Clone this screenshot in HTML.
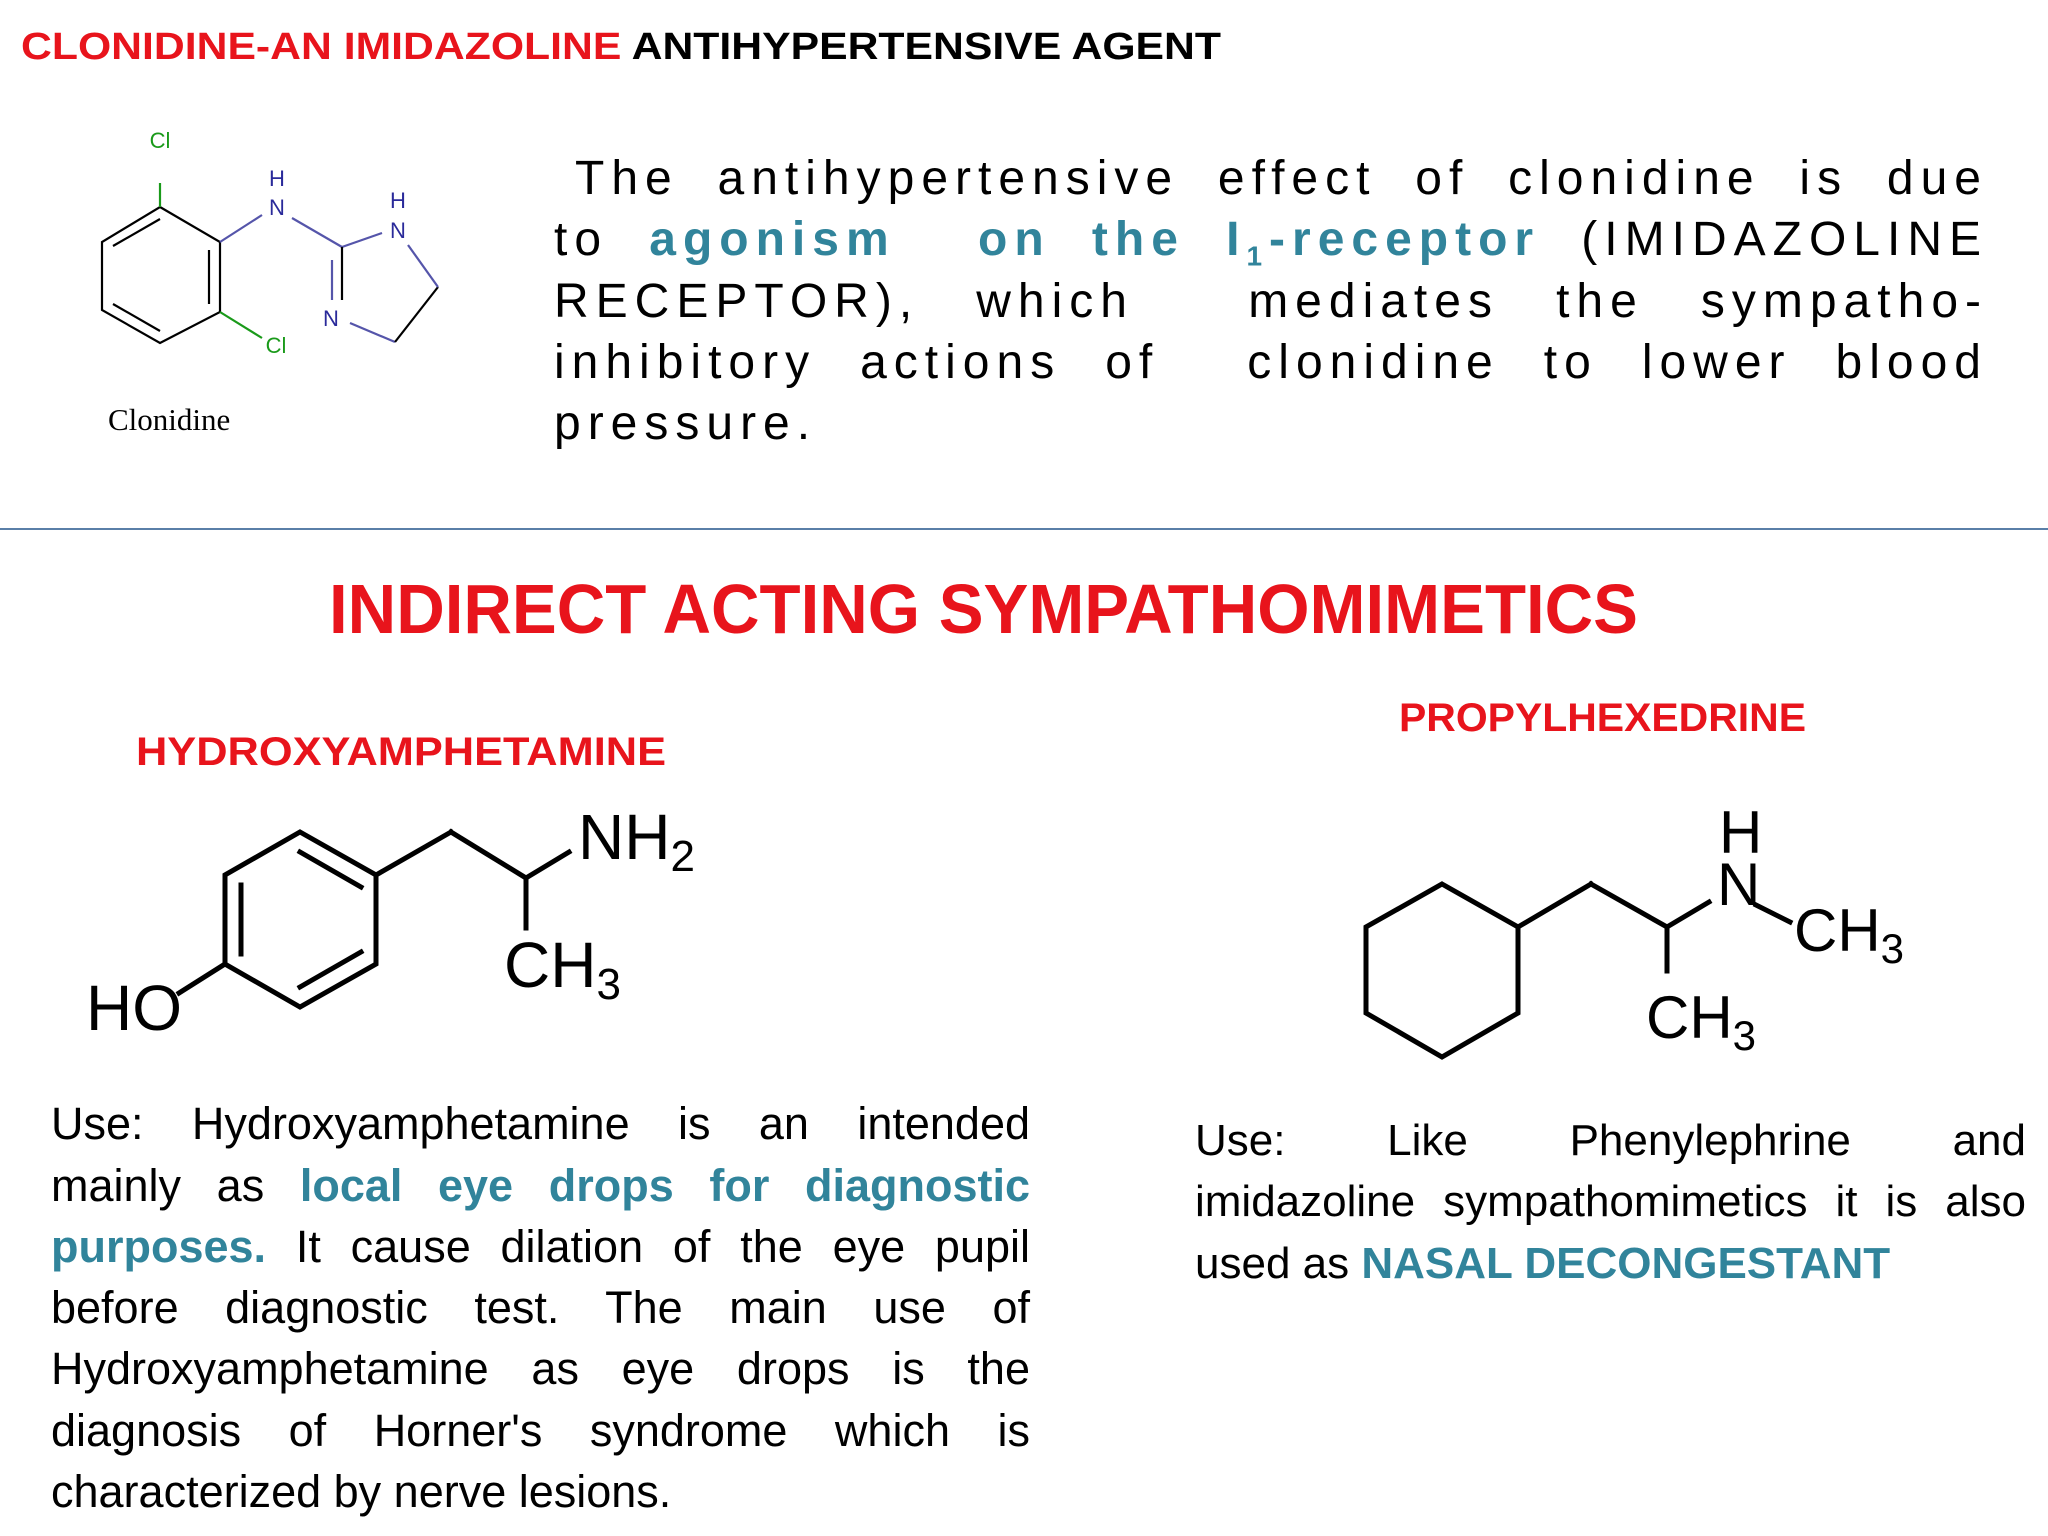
<!DOCTYPE html>
<html><head><meta charset="utf-8"><style>
html,body{margin:0;padding:0;background:#fff;}
body{width:2048px;height:1536px;position:relative;overflow:hidden;font-family:"Liberation Sans",sans-serif;}
.ln{position:absolute;white-space:nowrap;text-align:justify;text-align-last:justify;}
.cp{font-size:48px;line-height:48px;letter-spacing:7px;color:#000;left:554px;width:1434px;}
.lp{font-size:45px;line-height:45px;color:#000;left:51px;width:979px;}
.rp{font-size:44px;line-height:44px;color:#000;left:1195px;width:831px;}
.t{color:#31849b;font-weight:bold;}
svg{position:absolute;left:0;top:0;}
</style></head><body>
<svg width="2048" height="1536" viewBox="0 0 2048 1536" font-family="Liberation Sans, sans-serif">
<text x="21" y="59" font-size="38" font-weight="bold" textLength="1200" lengthAdjust="spacingAndGlyphs"><tspan fill="#e8141c">CLONIDINE-AN IMIDAZOLINE</tspan><tspan fill="#000"> ANTIHYPERTENSIVE AGENT</tspan></text>
<line x1="0" y1="529" x2="2048" y2="529" stroke="#5a7fa8" stroke-width="2"/>
<text x="329" y="633" font-size="70" font-weight="bold" fill="#e8141c" textLength="1309" lengthAdjust="spacingAndGlyphs">INDIRECT ACTING SYMPATHOMIMETICS</text>
<text x="136" y="765" font-size="40" font-weight="bold" fill="#e8141c" textLength="530" lengthAdjust="spacingAndGlyphs">HYDROXYAMPHETAMINE</text>
<text x="1399" y="731" font-size="40" font-weight="bold" fill="#e8141c" textLength="407" lengthAdjust="spacingAndGlyphs">PROPYLHEXEDRINE</text>

<!-- Clonidine -->
<g stroke="#000" stroke-width="2.2" fill="none">
<polygon points="160,207 220,242 220,312 160,343 102,310 102,242"/>
<line x1="113" y1="246" x2="160" y2="219"/>
<line x1="209" y1="250" x2="209" y2="304"/>
<line x1="113" y1="304" x2="160" y2="331"/>
<line x1="160" y1="207" x2="160" y2="183" stroke="#1a9a1a"/>
<line x1="220" y1="242" x2="262" y2="215" stroke="#5555aa"/>
<line x1="292" y1="218" x2="342" y2="247" stroke="#5555aa"/>
<line x1="342" y1="247" x2="382" y2="233" stroke="#5555aa"/>
<line x1="342" y1="247" x2="342" y2="300"/>
<line x1="332" y1="260" x2="332" y2="300" stroke="#5555aa"/>
<line x1="350" y1="323" x2="395" y2="342" stroke="#5555aa"/>
<line x1="395" y1="342" x2="438" y2="287"/>
<line x1="438" y1="287" x2="408" y2="245" stroke="#5555aa"/>
<line x1="220" y1="312" x2="262" y2="338" stroke="#1a9a1a"/>
</g>
<g font-size="22" text-anchor="middle">
<text x="160" y="148" fill="#1a9a1a">Cl</text>
<text x="277" y="215" fill="#2a2a9a">N</text>
<text x="277" y="186" fill="#2a2a9a">H</text>
<text x="398" y="238" fill="#2a2a9a">N</text>
<text x="398" y="208" fill="#2a2a9a">H</text>
<text x="331" y="326" fill="#2a2a9a">N</text>
<text x="276" y="353" fill="#1a9a1a">Cl</text>
</g>
<text x="108" y="430" font-family="Liberation Serif, serif" font-size="31" fill="#000">Clonidine</text>

<!-- Hydroxyamphetamine -->
<g stroke="#000" stroke-width="5" fill="none" stroke-linecap="square">
<polygon points="300,832 376,875 376,964 300,1007 225,964 225,875" stroke-linejoin="miter"/>
<line x1="300" y1="852" x2="361" y2="887"/>
<line x1="241" y1="885" x2="241" y2="954"/>
<line x1="300" y1="987" x2="361" y2="952"/>
<line x1="225" y1="964" x2="179" y2="993"/>
<line x1="376" y1="875" x2="451" y2="832"/>
<line x1="451" y1="832" x2="526" y2="878"/>
<line x1="526" y1="878" x2="569" y2="852"/>
<line x1="526" y1="878" x2="526" y2="928"/>
</g>
<g font-size="64" fill="#000">
<text x="578" y="859">NH<tspan font-size="44" dy="12">2</tspan></text>
<text x="504" y="987">CH<tspan font-size="44" dy="12">3</tspan></text>
<text x="86" y="1030">HO</text>
</g>

<!-- Propylhexedrine -->
<g stroke="#000" stroke-width="5" fill="none" stroke-linecap="square">
<polygon points="1442,884 1518,927 1518,1013 1442,1057 1366,1013 1366,927"/>
<line x1="1518" y1="927" x2="1591" y2="884"/>
<line x1="1591" y1="884" x2="1667" y2="927"/>
<line x1="1667" y1="927" x2="1709" y2="902"/>
<line x1="1667" y1="927" x2="1667" y2="971"/>
<line x1="1756" y1="905" x2="1790" y2="922"/>
</g>
<g font-size="60" fill="#000">
<text x="1717" y="905">N</text>
<text x="1719" y="853">H</text>
<text x="1794" y="951">CH<tspan font-size="42" dy="12">3</tspan></text>
<text x="1646" y="1038">CH<tspan font-size="42" dy="12">3</tspan></text>
</g>
</svg>

<div class="ln cp" style="top:155px;left:575px;width:1413px;">The antihypertensive effect of clonidine is due</div>
<div class="ln cp" style="top:216px;">to <span class="t" style="letter-spacing:7px">agonism &nbsp;on the I<sub style="font-size:28px;line-height:0">1</sub>-receptor</span> (IMIDAZOLINE</div>
<div class="ln cp" style="top:278px;">RECEPTOR), which &nbsp;mediates the sympatho-</div>
<div class="ln cp" style="top:339px;">inhibitory actions of &nbsp;clonidine to lower blood</div>
<div class="ln cp" style="top:400px;text-align-last:left;">pressure.</div>

<div class="ln lp" style="top:1101px;">Use: Hydroxyamphetamine is an intended</div>
<div class="ln lp" style="top:1163px;">mainly as <span class="t">local eye drops for diagnostic</span></div>
<div class="ln lp" style="top:1224px;"><span class="t">purposes.</span> It cause dilation of the eye pupil</div>
<div class="ln lp" style="top:1285px;">before diagnostic test. The main use of</div>
<div class="ln lp" style="top:1346px;">Hydroxyamphetamine as eye drops is the</div>
<div class="ln lp" style="top:1408px;">diagnosis of Horner's syndrome which is</div>
<div class="ln lp" style="top:1469px;text-align-last:left;">characterized by nerve lesions.</div>

<div class="ln rp" style="top:1119px;">Use: Like Phenylephrine and</div>
<div class="ln rp" style="top:1180px;">imidazoline sympathomimetics it is also</div>
<div class="ln rp" style="top:1242px;text-align-last:left;">used as <span class="t">NASAL DECONGESTANT</span></div>
</body></html>
